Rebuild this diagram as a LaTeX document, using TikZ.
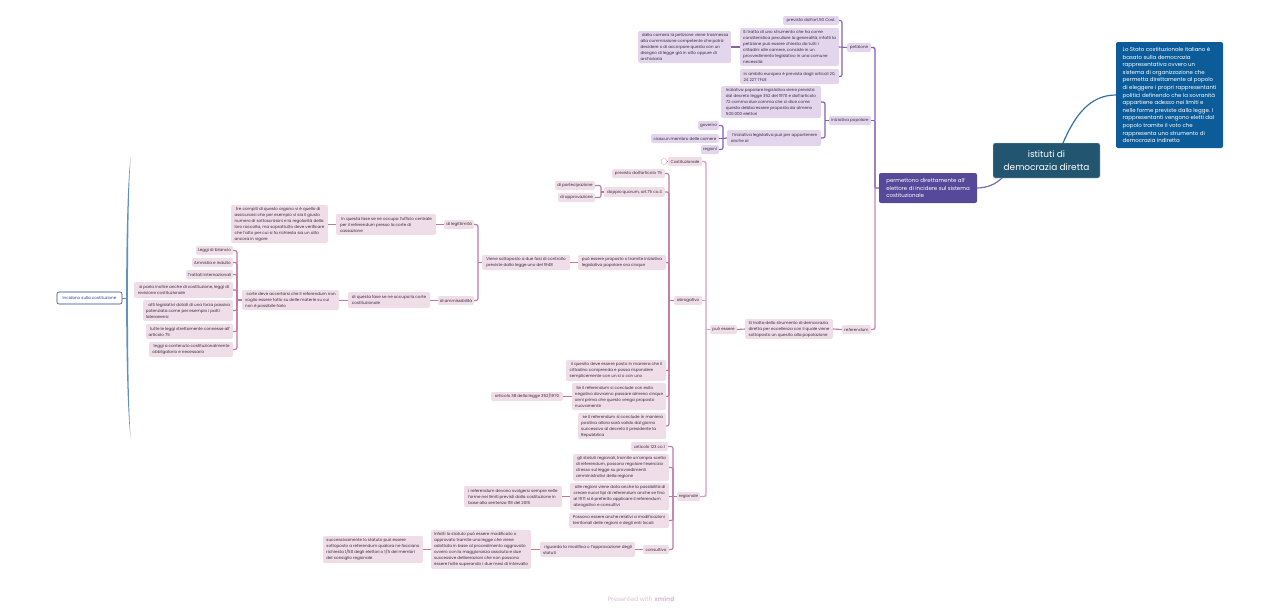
\documentclass[tikz,border=0pt]{standalone}
\usepackage{fontspec}
\setmainfont{Poppins}
\definecolor{pkfill}{HTML}{EFDDE8}
\definecolor{pufill}{HTML}{E3D6EC}
\definecolor{pkline}{HTML}{BC7AA3}
\definecolor{pktrunk}{HTML}{D59DC2}
\definecolor{puline}{HTML}{8460AE}
\definecolor{putrunk}{HTML}{A280BE}
\definecolor{mixtrunk}{HTML}{BE88B9}
\definecolor{txt}{HTML}{3A2A3C}
\definecolor{bluebox}{HTML}{0B5C99}
\definecolor{titlebox}{HTML}{22556F}
\definecolor{violetbox}{HTML}{56499A}
\definecolor{navy}{HTML}{2B3F8C}
\definecolor{curveblue}{HTML}{5F93B8}
\tikzset{
  x=0.75pt,y=-0.75pt,
  box/.style={rounded corners=1.5pt,inner sep=0pt,outer sep=0pt,align=left,text=txt,font=\fontsize{3.05}{4.5}\selectfont},
  pk/.style={box,fill=pkfill},
  pu/.style={box,fill=pufill},
  pl/.style={pkline,line width=0.85pt,rounded corners=1.5pt},
  ul/.style={puline,line width=0.85pt,rounded corners=1.5pt},
  tk/.style={line width=1pt,rounded corners=1.5pt},
}
\newcommand{\nb}[7][pk]{\node[#1,minimum width={(#5-#3)*0.75pt},minimum height={(#6-#4)*0.75pt}] (#2) at ({(#3+#5)/2},{(#4+#6)/2}) {#7};}
\newcommand{\ls}{\hspace*{1pt}}
\begin{document}
\begin{tikzpicture}
\useasboundingbox (0,0) rectangle (1280,607);
% --- coordinates of the connector elbows
\coordinate (tr1) at (875,188);
\coordinate (tr2) at (875,120.5);
\coordinate (bp) at (842,47.5);
\coordinate (bi) at (825,120.5);
\coordinate (bl) at (723,138.5);
\coordinate (bt) at (706,329.5);
\coordinate (ba) at (669,300.5);
\coordinate (bq) at (601,192);
\coordinate (bf) at (478,262.5);
\coordinate (bc) at (237,300);
\coordinate (br) at (673,496.5);
\coordinate (cm) at (127,298);
\coordinate (ct) at (130.7,157);
\coordinate (cb) at (130.7,438);
% --- right side
\nb[box,fill=titlebox,draw=white!75!titlebox,line width=0.3pt,text=white,align=center,font=\fontsize{6.7}{9.5}\selectfont]{title}{993}{143}{1100}{178}{istituti di\\democrazia diretta}
\nb[box,fill=bluebox,text=white,font=\fontsize{4.1}{5.7}\selectfont]{stato}{1116}{42}{1223}{148}{Lo Stato costituzionale italiano è\\basato sulla democrazia\\rappresentativa ovvero un\\sistema di organizzazione che\\permetta direttamente al popolo\\di eleggere i propri rappresentanti\\politici definendo che la sovranità\\appartiene adesso nei limiti e\\nelle forme previste dalla legge. I\\rappresentanti vengono eletti dal\\popolo tramite il voto che\\rappresenta uno strumento di\\democrazia indiretta}
\nb[box,fill=violetbox,text=white,font=\fontsize{4.1}{5.7}\selectfont]{perm}{879}{173}{977}{203}{permettono direttamente all'\\elettore di incidere sul sistema\\costituzionale}
% --- purple branch
\nb[pu]{art50}{783}{16}{839}{25}{prevista dall'art.50 Cost.}
\nb[pu]{petiz}{847}{43}{871}{52}{petizione}
\nb[pu]{sitratta}{740}{28}{839}{66}{Si tratta di uno strumento che ha come\\caratteristica peculiare la generalità, infatti la\\petizione può essere chiesta da tutti i\\cittadini alle camere, consiste in un\\provvedimento legislativo in una comune\\necessità}
\nb[pu]{ambito}{740}{69}{839}{84}{In ambito europeo è prevista dagli articoli 20,\\24 227 TFUE}
\nb[pu]{dalla}{638}{31}{731}{63}{\ls dalla camera la petizione viene trasmessa\\alla commissione competente che potrà\\decidere o di accorpare questa con un\\disegno di legge già in atto oppure di\\archiviarla}
\nb[pu]{inleg}{721}{86}{821}{118}{Iniziativa popolare legislativa viene prevista\\dal decreto legge 352 del 1970 e dall'articolo\\72 comma due comma che ci dice come\\questa debba essere proposta da almeno\\500.000 elettori}
\nb[pu]{inpop}{829}{116}{871}{125}{iniziativa popolare}
\nb[pu]{linit}{727}{130}{821}{146}{\ls l'iniziativa legislativa può per appartenere\\anche ai}
\nb[pu]{gov}{698}{121}{719}{130}{governo}
\nb[pu]{ciasc}{651}{134}{719}{143}{ciascun membro delle camere}
\nb[pu]{reg}{701}{145}{719}{154}{regioni}
% --- referendum top
\nb[pk]{cost}{668}{157}{702}{166}{Costituzionale}
\node[circle,draw=pkline!60,line width=0.35pt,fill=white,minimum size=4.5pt,inner sep=0pt] (circ) at (664,161.5) {};
\nb[pk]{art75}{612}{169}{665}{178}{previsto dall'articolo 75}
\nb[pk]{doppio}{604}{187}{665}{197}{doppio quorum, art.75 co.4}
\nb[pk]{part}{555}{181}{595}{190}{di partecipazione}
\nb[pk]{appr}{558}{193}{595}{202}{di approvazione}
\nb[pk]{proposto}{578}{255}{666}{270}{può essere proposto o tramite iniziativa\\legislativa popolare ora cinque}
\nb[pk]{viene}{482}{255}{570}{270}{Viene sottoposto a due fasi di controllo\\previste dalla legge uno del 1948}
\nb[pk]{legit}{444}{220}{474}{229}{di legittimità}
\nb[pk]{amm}{438}{296}{474}{305}{di ammissibilità}
\nb[pk]{inquesta}{336}{214}{436}{235}{\ls In questa fase se ne occupa l'ufficio centrale\\per il referendum presso la corte di\\cassazione}
\nb[pk]{tre}{231}{205}{328}{243}{\ls tre compiti di questo organo vi è quello di\\assicurarsi che per esempio vi sia il giusto\\numero di sottoscrizioni e la regolarità della\\loro raccolta, ma soprattutto deve verificare\\che l'atto per cui si fa richiesta sia un atto\\ancora in vigore}
\nb[pk]{diquesta}{348}{292}{430}{308}{di questa fase se ne occupa la corte\\costituzionale}
\nb[pk]{corte}{242}{290}{339}{310}{\ls corte deve accertarsi che il referendum non\\voglio essere fatto su delle materie su cui\\non è possibile farlo}
\nb[pk]{bil}{196}{246}{233}{255}{Leggi di bilancio}
\nb[pk]{amn}{192}{258}{233}{267}{Amnistia e indulto}
\nb[pk]{trat}{186}{270}{233}{279}{Trattati internazionali}
\nb[pk]{siparla}{134}{282}{233}{298}{\ls si parla inoltre anche di costituzione, leggi di\\revisione costituzionale}
\nb[pk]{atti}{143}{300}{233}{321}{\ls\ls atti legislativi dotati di una forza passiva\\potenziata come per esempio i patti\\lateranensi}
\nb[pk]{tutte}{146}{324}{233}{339}{\ls tutte le leggi strettamente connesse all'\\articolo 75}
\nb[pk]{contenuto}{149}{342}{233}{357}{\ls leggi a contenuto costituzionalmente\\obbligatorio e necessario}
\nb[box,fill=white,draw=navy,line width=0.45pt,text=navy,align=center]{incid}{57}{292}{122}{304}{Incidono sulla costituzione}
% --- abrogativo lower
\nb[pk]{quesito}{566}{360}{666}{381}{\ls il quesito deve essere posto in maniera che il\\cittadino comprenda e possa rispondere\\semplicemente con un sì o con uno}
\nb[pk]{seneg}{572}{383}{666}{410}{\ls Se il referendum si conclude con esito\\negativo dovranno passare almeno cinque\\anni prima che questo venga proposto\\nuovamente}
\nb[pk]{sepos}{578}{413}{666}{439}{\ls se il referendum si conclude in maniera\\positiva allora sarà valido dal giorno\\successivo al decreto il presidente la\\Repubblica}
\nb[pk]{art38}{491}{392}{563}{401}{articolo 38 della legge 352/1970}
\nb[pk]{abrog}{674}{296}{702}{305}{abrogativo}
\nb[pk]{puo}{710}{325}{737}{334}{può essere}
\nb[pk]{dello}{745}{319}{833}{339}{Si tratta dello strumento di democrazia\\diretta per eccellenza con il quale viene\\sottoposto un quesito alla popolazione}
\nb[pk]{refer}{842}{325}{871}{334}{referendum}
% --- regionale
\nb[pk]{art123}{631}{442}{668}{451}{articolo 123 co.1}
\nb[pk]{statuti}{573}{454}{669}{481}{\ls gli statuti regionali, tramite un'ampia scelta\\di referendum, possono regolare l'esercizio\\di esso sul legge su provvedimenti\\amministrativi della regione}
\nb[pk]{alle}{570}{483}{669}{510}{\ls alle regioni viene data anche la possibilità di\\creare nuovi tipi di referendum anche se fino\\al 1971 si è preferito applicare il referendum\\abrogativo e consultivi}
\nb[pk]{possono}{569}{513}{669}{528}{Possono essere anche relativi a modificazioni\\territoriali delle regioni e degli enti locali}
\nb[pk]{limiti}{464}{486}{562}{507}{i referendum devono svolgersi sempre nelle\\forme nei limiti previsti dalla costituzione in\\base alla sentenza 118 del 2015}
\nb[pk]{regio}{677}{492}{700}{501}{regionale}
\nb[pk]{consu}{643}{545}{669}{554}{consultivo}
\nb[pk]{riguarda}{540}{542}{635}{557}{\ls riguarda la modifica o l'approvazione degli\\statuti}
\nb[pk]{infatti}{431}{530}{531}{569}{Infatti lo statuto può essere modificato o\\approvato tramite una legge che viene\\adottata in base al procedimento aggravato\\ovvero con la maggioranza assoluta e due\\successive deliberazioni che non possono\\essere fatte superando i due mesi di intervallo}
\nb[pk]{succ}{323}{536}{423}{563}{successivamente lo statuto può essere\\sottoposto a referendum qualora ne facciano\\richiesta 1/50  degli elettori o 1/5 dei membri\\del consiglio regionale}
\node[inner sep=0pt,text=pktrunk!70,font=\fontsize{4.6}{6}\selectfont,anchor=center] (xm) at (641,599) {Presented with \textbf{xmind}};
% --- connectors: root
\draw[line width=0.9pt,color=bluebox!85!white] (title.north) ++(16.5,0) .. controls (1075,115) and (1090,95) .. (stato.west);
\draw[line width=0.9pt,color=violetbox!80!white] (title.south) ++(-44.5,0) .. controls (996,184) and (987,188) .. (perm.east |- tr1);
\draw[tk,mixtrunk] (perm.west |- tr1) -- (tr1);
\draw[tk,puline] (petiz.east) -| (tr2);
\draw[tk,puline] (inpop.east) -- (tr2);
\draw[tk,putrunk] (tr2) -- (tr1);
\draw[tk,mixtrunk] (tr1) |- (refer.east);
% --- connectors: petizione
\draw[ul] (petiz.west) -- (sitratta.east);
\draw[ul] (art50.east) -| (bp);
\draw[ul] (ambito.east) -| (bp);
\draw[ul] (sitratta.west) -- (dalla.east);
% --- connectors: iniziativa
\draw[ul] (inpop.west) -- (bi);
\draw[ul] (inleg.east |- 0,102) -| (bi);
\draw[ul] (linit.east |- 0,138) -| (bi);
\draw[ul] (linit.west) -- (bl);
\draw[ul] (gov.east) -| (bl);
\draw[ul] (reg.east) -| (bl);
\draw[ul] (ciasc.east) -- (bl);
% --- connectors: referendum
\draw[tk,pktrunk] (cost.east) -| (bt);
\draw[tk,pktrunk] (regio.east) -| (bt);
\draw[tk,pktrunk] (abrog.east) -- (bt |- abrog.east);
\draw[tk,pktrunk] (puo.west) -- (bt);
\draw[pl] (cost.west) -- (circ.east);
\draw[pl] (puo.east) -- (dello.west);
\draw[pl] (dello.east) -- (refer.west);
% --- abrogativo
\draw[pl] (abrog.west) -- (ba);
\draw[pl] (art75.east) -| (ba);
\draw[pl] (doppio.east) -| (ba);
\draw[pl] (proposto.east) -| (ba);
\draw[pl] (quesito.east) -| (ba);
\draw[pl] (seneg.east) -| (ba);
\draw[pl] (sepos.east) -| (ba);
\draw[pl] (doppio.west) -- (bq);
\draw[pl] (part.east) -| (bq);
\draw[pl] (appr.east) -| (bq);
\draw[pl] (proposto.west) -- (viene.east);
\draw[pl] (viene.west) -- (bf);
\draw[pl] (legit.east) -| (bf);
\draw[pl] (amm.east) -| (bf);
\draw[pl] (legit.west) -- (inquesta.east |- legit.west);
\draw[pl] (inquesta.west |- legit.west) -- (tre.east |- legit.west);
\draw[pl] (amm.west) -- (diquesta.east |- amm.west);
\draw[pl] (diquesta.west |- amm.west) -- (corte.east |- amm.west);
\draw[pl] (corte.west) -- (bc);
\draw[pl] (bil.east) -| (bc);
\draw[pl] (amn.east) -| (bc);
\draw[pl] (trat.east) -| (bc);
\draw[pl] (siparla.east) -| (bc);
\draw[pl] (atti.east) -| (bc);
\draw[pl] (tutte.east) -| (bc);
\draw[pl] (contenuto.east) -| (bc);
\draw[pl] (seneg.west) -- (art38.east);
% --- regionale
\draw[pl] (regio.west) -- (br);
\draw[pl] (art123.east) -| (br);
\draw[pl] (statuti.east) -| (br);
\draw[pl] (possono.east) -| (br);
\draw[pl] (consu.east) -| (br);
\draw[pl] (alle.east |- br) -- (br);
\draw[pl] (alle.west |- limiti.east) -- (limiti.east);
\draw[pl] (consu.west) -- (riguarda.east);
\draw[pl] (riguarda.west) -- (infatti.east |- riguarda.west);
\draw[pl] (infatti.west |- riguarda.west) -- (succ.east |- riguarda.west);
% --- left curve
\draw[line width=0.6pt,curveblue] (incid.east) -- (cm);
\fill[curveblue] (ct) .. controls (124.6,200) and (124.6,395) .. (cb) .. controls (127,395) and (127,200) .. (ct);
\end{tikzpicture}
\end{document}
